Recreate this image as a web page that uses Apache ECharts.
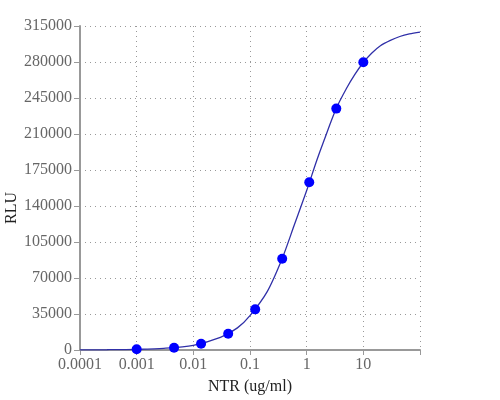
<!DOCTYPE html>
<html>
<head>
<meta charset="utf-8">
<script src="https://cdn.jsdelivr.net/npm/echarts@6/dist/echarts.min.js"></script>
<style>html,body{margin:0;padding:0;background:#fff}#c{width:500px;height:400px}</style>
</head>
<body>
<div id="c"></div>
<script>
// Measured points (concentration, RLU)
const pointX = [0.001, 0.00457, 0.0137, 0.0412, 0.1235, 0.370, 1.111, 3.333, 10];
const pointY = [800, 2200, 6100, 15800, 39500, 88700, 163100, 234700, 279700];
// Fitted curve
const curveX = [0.0001, 0.0003, 0.001, 0.003, 0.01, 0.03, 0.06, 0.1, 0.2, 0.37, 0.6, 1, 1.5, 2, 3.333, 5, 7, 10, 14, 20, 30, 44, 65, 100];
const curveY = [100, 250, 650, 1600, 4600, 12200, 21500, 33500, 56500, 89000, 121000, 155000, 184000, 203000, 235000, 254000, 267500, 279500, 288500, 295800, 301000, 304800, 307300, 309000];
const yTicks = {min: 0, max: 315000, interval: 35000};
const xRange = {min: 0.0001, max: 100};
const xTitle = 'NTR (ug/ml)';
const yTitle = 'RLU';

const serif = 'Liberation Serif';
const chart = echarts.init(document.getElementById('c'));
chart.setOption({
  animation: false,
  grid: {left: 80, right: 80, top: 26, bottom: 50, containLabel: false, outerBoundsMode: 'none'},
  graphic: [{
    type: 'text', x: 12, y: 208, rotation: Math.PI / 2,
    style: {text: yTitle, fontFamily: serif, fontSize: 16, fill: '#222', align: 'center', verticalAlign: 'middle'}
  }],
  xAxis: {
    type: 'log', logBase: 10, min: xRange.min, max: xRange.max,
    name: xTitle, nameLocation: 'middle', nameGap: 29,
    nameTextStyle: {fontFamily: serif, fontSize: 16, color: '#222'},
    axisLine: {lineStyle: {color: '#999', width: 2}},
    axisTick: {show: true, length: 5, lineStyle: {color: '#999'}},
    axisLabel: {fontFamily: serif, fontSize: 16, color: '#666', margin: 7,
      formatter: v => { const e = Math.round(Math.log10(v)); if (e >= 2) return ''; return e < 0 ? Math.pow(10, e).toFixed(-e) : String(Math.pow(10, e)); }},
    splitLine: {show: true, lineStyle: {type: [1, 4], color: '#999', width: 1}},
    minorTick: {show: false}
  },
  yAxis: {
    type: 'value', min: yTicks.min, max: yTicks.max, interval: yTicks.interval,
    axisLine: {show: true, lineStyle: {color: '#999', width: 2}},
    axisTick: {show: true, length: 6, lineStyle: {color: '#999'}},
    axisLabel: {fontFamily: serif, fontSize: 16, color: '#666', margin: 8, formatter: v => String(v)},
    splitLine: {show: true, lineStyle: {type: [1, 4], color: '#999', width: 1}}
  },
  series: [
    {type: 'line', data: curveX.map((x, i) => [x, curveY[i]]), smooth: 0.3, showSymbol: false,
      lineStyle: {color: '#3030a8', width: 1.3}, z: 2},
    {type: 'scatter', data: pointX.map((x, i) => [x, pointY[i]]), symbolSize: 10,
      itemStyle: {color: '#0000ff', opacity: 1}, z: 3}
  ]
});
</script>
</body>
</html>
